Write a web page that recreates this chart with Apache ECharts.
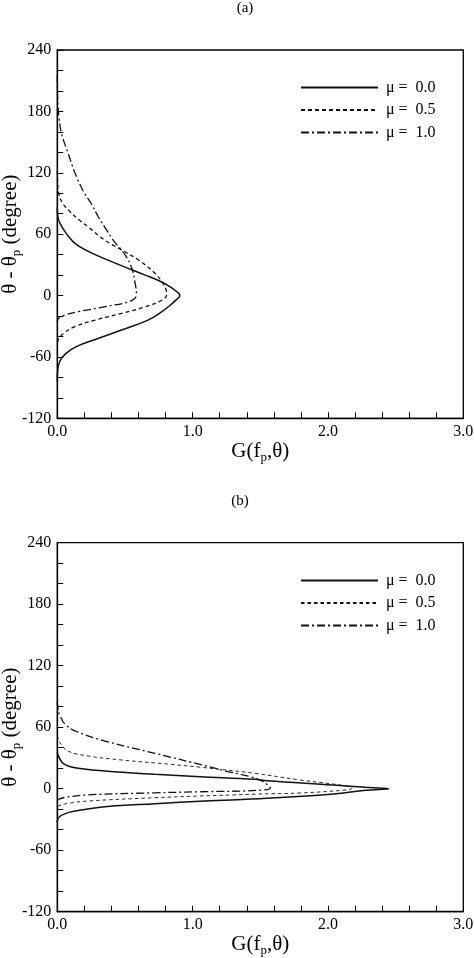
<!DOCTYPE html>
<html>
<head>
<meta charset="utf-8">
<script src="https://cdn.jsdelivr.net/npm/echarts@6/dist/echarts.min.js"></script>
<style>
html,body{margin:0;padding:0;background:#fff;}
#c{width:474px;height:958px;}
</style>
</head>
<body>
<div id="c"></div>
<script>
// ---- data: [G(fp,theta), theta - theta_p (degree)] ----
const panelTitles = ['(a)', '(b)'];
const legendLabels = ['μ =  0.0', 'μ =  0.5', 'μ =  1.0'];
const xTickLabels = ['0.0', '1.0', '2.0', '3.0'];
const yTickLabels = ['-120', '-60', '0', '60', '120', '180', '240'];

const a_mu00 = [[0,86],[0.003,78],[0.022,70],[0.07,60],[0.14,50],[0.28,40],[0.46,30],[0.65,20],[0.76,14],[0.84,8],[0.89,3],[0.906,0],[0.88,-4],[0.83,-10],[0.77,-16],[0.67,-24],[0.48,-33.5],[0.3,-42],[0.14,-50],[0.06,-57],[0.02,-64],[0.004,-72],[0,-84]];
const a_mu05 = [[0,122],[0.003,110],[0.01,100],[0.04,90],[0.094,82],[0.16,74],[0.229,67],[0.353,54],[0.476,44.5],[0.6,34.7],[0.72,22],[0.78,12],[0.805,5],[0.808,1],[0.78,-4],[0.65,-11],[0.476,-17.4],[0.28,-24],[0.13,-30.4],[0.045,-37],[0.008,-43],[0,-48]];
const a_mu10 = [[0,215],[0.002,195],[0.012,175],[0.032,158],[0.08,139],[0.13,120],[0.192,102],[0.25,90],[0.303,77],[0.36,65],[0.414,54],[0.5,40],[0.55,27],[0.574,13],[0.585,1],[0.55,-5],[0.353,-10.9],[0.155,-15.8],[0.057,-19],[0.008,-22.5],[0,-26]];

const b_mu00 = [[0,36],[0.008,32],[0.045,24.5],[0.13,20.5],[0.353,17.2],[0.72,14],[1.055,11.7],[1.46,9.2],[1.55,7.8],[2.04,3.6],[2.28,1.3],[2.45,0],[2.28,-1.6],[2.04,-5.1],[1.548,-9.4],[1.09,-12],[0.72,-14.6],[0.353,-17.6],[0.13,-21.8],[0.045,-25],[0.008,-28.3],[0,-33]];
const b_mu05 = [[0,52],[0.02,45],[0.08,36.7],[0.229,31.9],[0.476,28],[0.845,23.7],[1.055,21],[1.2,18.9],[1.46,15],[1.793,8.5],[2.138,2.6],[2.175,0.3],[2.138,-1.2],[1.79,-4.2],[1.46,-5.3],[1.3,-6.1],[1.055,-7.1],[0.722,-8.8],[0.229,-12],[0.08,-14.3],[0.008,-16.9],[0,-19]];
const b_mu10 = [[0,85],[0.005,78],[0.02,71],[0.057,63],[0.13,56.5],[0.353,46.5],[0.722,34.5],[1.09,22.5],[1.25,17],[1.42,12],[1.52,7],[1.56,3],[1.575,0.8],[1.5,-1.5],[1.055,-3.0],[0.722,-4.0],[0.229,-6],[0.057,-8.5],[0.008,-10.5],[0,-12]];

const FONT = 'Liberation Serif';
const labelMap = {a0: legendLabels[0], a5: legendLabels[1], a10: legendLabels[2], b0: legendLabels[0], b5: legendLabels[1], b10: legendLabels[2]};

const grids = [
  {left: 57.3, right: 10.7, top: 50, height: 368.3},
  {left: 57.3, right: 10.7, top: 542.7, height: 369}
].map(g => Object.assign(g, {show: true, borderColor: '#000', borderWidth: 1.3, backgroundColor: 'transparent', containLabel: false, outerBoundsMode: 'none'}));

function xAxis(i) {
  return {
    gridIndex: i, type: 'value', min: 0, max: 3, interval: 0.2,
    axisLine: {show: true, onZero: false, lineStyle: {color: '#000', width: 1.3}},
    axisTick: {show: true, inside: true, length: 6, lineStyle: {color: '#000', width: 1}},
    splitLine: {show: false},
    axisLabel: {
      interval: 4, margin: 5, color: '#000', fontFamily: FONT, fontSize: 16,
      showMaxLabel: true, showMinLabel: true, hideOverlap: false,
      formatter: v => { const k = Math.round(v * 5); return k % 5 === 0 ? xTickLabels[k / 5] : ''; }
    },
    name: 'G(f{sub|p},θ)', nameLocation: 'middle', nameGap: 21, nameMoveOverlap: false,
    nameTextStyle: {color: '#000', fontFamily: FONT, fontSize: 21, lineHeight: 24,
      rich: {sub: {fontSize: 13, fontFamily: FONT, color: '#000', lineHeight: 24, padding: [12, 0, 0, 0]}}}
  };
}
function yAxis(i) {
  return {
    gridIndex: i, type: 'value', min: -120, max: 240, interval: 20,
    axisLine: {show: true, onZero: false, lineStyle: {color: '#000', width: 1.3}},
    axisTick: {show: true, inside: true, length: 6, lineStyle: {color: '#000', width: 1}},
    splitLine: {show: false},
    axisLabel: {
      interval: 2, margin: 6, color: '#000', fontFamily: FONT, fontSize: 16, hideOverlap: false,
      formatter: v => { const k = Math.round((v + 120) / 60); return (Math.abs(v + 120 - k * 60) < 1e-6) ? yTickLabels[k] : ''; }
    },
    name: 'θ - θ{sub|p} (degree)', nameLocation: 'middle', nameGap: 35, nameRotate: 90, nameMoveOverlap: false,
    nameTextStyle: {color: '#000', fontFamily: FONT, fontSize: 21, lineHeight: 24,
      rich: {sub: {fontSize: 13, fontFamily: FONT, color: '#000', lineHeight: 24, padding: [12, 0, 0, 0]}}}
  };
}

function line(name, gi, data, type, width) {
  return {
    name, type: 'line', xAxisIndex: gi, yAxisIndex: gi, data,
    symbol: 'none', showSymbol: false, smooth: 0.4, clip: true,
    itemStyle: {color: '#111'},
    lineStyle: {color: '#111', width, type},
    emphasis: {disabled: true}, animation: false
  };
}

function legend(top, names) {
  return {
    data: names, orient: 'vertical', left: 295, top, itemWidth: 77, itemHeight: 14, itemGap: 6.5,
    selectedMode: false, formatter: n => labelMap[n],
    itemStyle: {opacity: 0},
    textStyle: {color: '#000', fontFamily: FONT, fontSize: 16, padding: [0, 0, 0, 3]}
  };
}

const option = {
  backgroundColor: '#fff',
  animation: false,
  title: [
    {text: panelTitles[0], left: 245, top: 1, padding: 0, textAlign: 'center', textStyle: {color: '#000', fontFamily: FONT, fontSize: 15, fontWeight: 'normal'}},
    {text: panelTitles[1], left: 240, top: 494, padding: 0, textAlign: 'center', textStyle: {color: '#000', fontFamily: FONT, fontSize: 15, fontWeight: 'normal'}}
  ],
  grid: grids,
  xAxis: [xAxis(0), xAxis(1)],
  yAxis: [yAxis(0), yAxis(1)],
  legend: [legend(74.5, ['a0', 'a5', 'a10']), legend(567.5, ['b0', 'b5', 'b10'])],
  series: [
    line('a0', 0, a_mu00, 'solid', 1.5),
    line('a5', 0, a_mu05, [4, 3], 1.3),
    line('a10', 0, a_mu10, [8, 3, 2, 3], 1.3),
    line('b0', 1, b_mu00, 'solid', 1.5),
    line('b5', 1, b_mu05, [3.5, 3], 0.9),
    line('b10', 1, b_mu10, [8, 3, 2, 3], 1.3)
  ]
};

const chart = echarts.init(document.getElementById('c'), null, {renderer: 'canvas'});
chart.setOption(option);
</script>
</body>
</html>
